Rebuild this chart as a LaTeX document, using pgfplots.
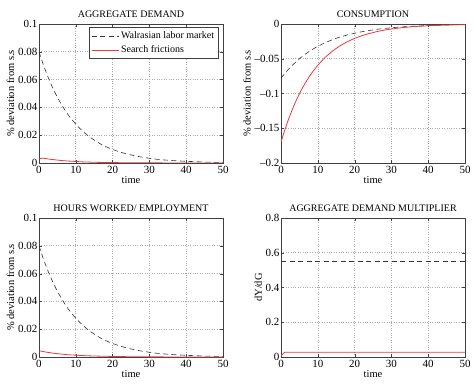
\documentclass[border=0pt]{standalone}
\usepackage{pgfplots}
\pgfplotsset{compat=1.18}
\usepackage{fontspec}
\setmainfont{Liberation Serif}
\definecolor{sred}{RGB}{232,58,62}
\definecolor{gridc}{RGB}{170,170,170}
\pgfplotsset{
  mat/.style={
    scale only axis, width=184pt, height=139pt,
    xmin=0, xmax=50, xtick={0,10,...,50},
    tick align=inside, tick pos=both, major tick length=3pt,
    grid=major, major grid style={gridc, dotted, line width=0.6pt},
    axis line style={line width=0.7pt, black!75},
    tick style={black!75},
    /pgf/number format/assume math mode=true,
    scaled y ticks=false,
    yticklabel style={/pgf/number format/fixed, /pgf/number format/precision=3, font=\fontsize{11}{12}\selectfont, xshift=2pt},
    xticklabel style={font=\fontsize{11}{12}\selectfont, yshift=0pt},
    title style={font=\fontsize{10}{11}\selectfont, yshift=-3pt},
    label style={font=\fontsize{10.5}{12}\selectfont},
    xlabel={time},
    xlabel style={yshift=4pt},
    ylabel style={yshift=-3pt},
  },
  wal/.style={black!80, line width=0.6pt, dash pattern=on 5pt off 3.5pt},
  sea/.style={sred, line width=0.8pt},
}
\pgfplotstableread{
t y
0 0.08
1 0.072
2 0.0648
3 0.0583
4 0.0525
5 0.0472
6 0.0425
7 0.0383
8 0.0344
9 0.0310
10 0.0279
11 0.0251
12 0.0226
13 0.0203
14 0.0183
15 0.0165
16 0.0148
17 0.0133
18 0.0120
19 0.0108
20 0.0097
22 0.0079
24 0.0064
26 0.0052
28 0.0042
30 0.0034
32 0.0027
34 0.0022
36 0.0018
38 0.0015
40 0.0012
42 0.0010
44 0.0008
46 0.0006
48 0.0005
50 0.0004
}\walAD
\pgfplotstableread{
t y
0 0.0030
1 0.0035
2 0.0031
3 0.0027
4 0.0024
5 0.0021
6 0.0018
8 0.0014
10 0.0011
12 0.0008
15 0.0005
20 0.0003
25 0.00015
30 0.0001
40 0.00002
50 0
}\seaAD
\pgfplotstableread{
t y
0 -0.078
1 -0.0714
2 -0.0653
3 -0.0598
4 -0.0547
5 -0.0500
6 -0.0458
7 -0.0419
8 -0.0383
9 -0.0351
10 -0.0321
12 -0.0269
14 -0.0225
16 -0.0188
18 -0.0158
20 -0.0132
22 -0.0111
24 -0.0093
26 -0.0077
28 -0.0065
30 -0.0054
32 -0.0045
34 -0.0038
36 -0.0032
38 -0.0027
40 -0.0022
42 -0.0019
44 -0.0016
46 -0.0013
48 -0.0011
50 -0.0009
}\walC
\pgfplotstableread{
t y
0 -0.17
1 -0.153
2 -0.1377
3 -0.1239
4 -0.1115
5 -0.1004
6 -0.0903
7 -0.0813
8 -0.0732
9 -0.0659
10 -0.0593
12 -0.0480
14 -0.0389
16 -0.0315
18 -0.0255
20 -0.0207
22 -0.0167
24 -0.0136
26 -0.0110
28 -0.0089
30 -0.0072
32 -0.0058
34 -0.0047
36 -0.0038
38 -0.0031
40 -0.0025
42 -0.0020
44 -0.0016
46 -0.0013
48 -0.0011
50 -0.0009
}\seaC
\pgfplotstableread{
t y
0 0.0045
1 0.0040
2 0.0035
3 0.0031
4 0.0027
5 0.0024
6 0.0021
8 0.0016
10 0.0013
12 0.0010
15 0.0007
20 0.0004
25 0.0002
30 0.0001
40 0.00003
50 0
}\seaH
\pgfplotstableread{
t y
0 0.55
50 0.55
}\walM
\pgfplotstableread{
t y
0 0.008
1 0.027
50 0.027
}\seaM
\begin{document}
\begin{tikzpicture}
\path[use as bounding box] (0,0) rectangle (474pt,386pt);
% top-left
\begin{axis}[mat, at={(39pt,223pt)}, anchor=south west,
  title={AGGREGATE DEMAND},
  ymin=0, ymax=0.1, ytick={0,0.02,...,0.1},
  ylabel={\% deviation from s.s},
  legend style={at={(0.975,0.975)}, anchor=north east, draw=black!75, line width=0.6pt,
    font=\fontsize{10}{11}\selectfont, row sep=1.5pt, inner sep=2pt},
  legend image code/.code={\draw[#1] (0pt,0pt) -- (27pt,0pt);},
  legend cell align=left]
\addplot[wal] table {\walAD};
\addlegendentry{Walrasian labor market}
\addplot[sea] table {\seaAD};
\addlegendentry{Search frictions}
\end{axis}
% top-right
\begin{axis}[mat, at={(281pt,223pt)}, anchor=south west,
  title={CONSUMPTION},
  ymin=-0.2, ymax=0, ytick={-0.2,-0.15,-0.1,-0.05,0},
  yticklabels={{–0.2},{–0.15},{–0.1},{–0.05},{0}},
  ylabel={\% deviation from s.s}]
\addplot[wal] table {\walC};
\addplot[sea] table {\seaC};
\end{axis}
% bottom-left
\begin{axis}[mat, at={(39pt,29pt)}, anchor=south west,
  title={HOURS WORKED/ EMPLOYMENT},
  ymin=0, ymax=0.1, ytick={0,0.02,...,0.1},
  ylabel={\% deviation from s.s}]
\addplot[wal] table {\walAD};
\addplot[sea] table {\seaH};
\end{axis}
% bottom-right
\begin{axis}[mat, at={(281pt,29pt)}, anchor=south west,
  title={AGGREGATE DEMAND MULTIPLIER},
  ymin=0, ymax=0.8, ytick={0,0.2,...,0.8},
  ylabel={dY/dG}]
\addplot[wal] table {\walM};
\addplot[sea] table {\seaM};
\end{axis}
\end{tikzpicture}
\end{document}
